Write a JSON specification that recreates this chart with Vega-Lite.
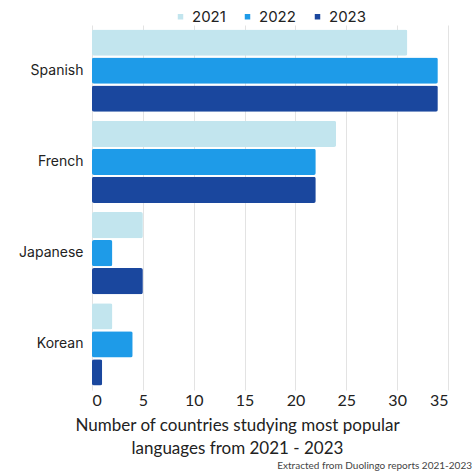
{
  "$schema": "https://vega.github.io/schema/vega-lite/v6.json",
  "autosize": {"type": "none"},
  "padding": {"left": 92, "top": 25, "right": 26, "bottom": 84},
  "width": 356,
  "height": 365,
  "background": "white",
  "title": {
    "text": "Extracted from Duolingo reports 2021-2023",
    "orient": "bottom",
    "anchor": "end",
    "frame": "group",
    "fontSize": 10,
    "fontWeight": "normal",
    "font": "Lato",
    "color": "#444",
    "dx": 24,
    "offset": 5
  },
  "data": {
    "values": [
      {"language": "Spanish", "year": "2021", "value": 31},
      {"language": "Spanish", "year": "2022", "value": 34},
      {"language": "Spanish", "year": "2023", "value": 34},
      {"language": "French", "year": "2021", "value": 24},
      {"language": "French", "year": "2022", "value": 22},
      {"language": "French", "year": "2023", "value": 22},
      {"language": "Japanese", "year": "2021", "value": 5},
      {"language": "Japanese", "year": "2022", "value": 2},
      {"language": "Japanese", "year": "2023", "value": 5},
      {"language": "Korean", "year": "2021", "value": 2},
      {"language": "Korean", "year": "2022", "value": 4},
      {"language": "Korean", "year": "2023", "value": 1}
    ]
  },
  "mark": {"type": "bar", "cornerRadius": 2},
  "encoding": {
    "y": {
      "field": "language",
      "type": "nominal",
      "sort": ["Spanish", "French", "Japanese", "Korean"],
      "scale": {"paddingInner": 0.1, "paddingOuter": 0.05},
      "axis": {
        "title": null,
        "ticks": false,
        "domain": false,
        "labelFont": "Inter",
        "labelFontSize": 14,
        "labelColor": "#222",
        "labelPadding": 9
      }
    },
    "yOffset": {
      "field": "year",
      "type": "nominal",
      "scale": {"paddingInner": 0.07}
    },
    "x": {
      "field": "value",
      "type": "quantitative",
      "scale": {"domain": [0, 35], "nice": false},
      "axis": {
        "values": [0, 5, 10, 15, 20, 25, 30, 35],
        "title": ["Number of countries studying most popular", "languages from 2021 - 2023"],
        "titleFont": "Lato",
        "titleFontSize": 17,
        "titleFontWeight": "normal",
        "titleColor": "#222",
        "titleLineHeight": 23,
        "titleX": 145,
        "titleY": 27,
        "titleAlign": "center",
        "titleBaseline": "top",
        "labelFont": "Lato",
        "labelFontSize": 16,
        "labelColor": "#222",
        "labelPadding": 2,
        "ticks": false,
        "domain": false,
        "gridColor": "#e3e3e3",
        "grid": true
      }
    },
    "color": {
      "field": "year",
      "type": "nominal",
      "scale": {"domain": ["2021", "2022", "2023"], "range": ["#c2e5ee", "#1e9be8", "#1a479e"]},
      "legend": {
        "title": null,
        "orient": "top",
        "direction": "horizontal",
        "symbolType": "square",
        "symbolSize": 30,
        "labelFont": "Inter",
        "labelFontSize": 15,
        "labelColor": "#222",
        "labelOffset": 4,
        "columnPadding": 14,
        "offset": 0
      }
    }
  },
  "config": {
    "view": {"stroke": null},
    "legend": {"layout": {"top": {"anchor": "middle"}}}
  }
}
